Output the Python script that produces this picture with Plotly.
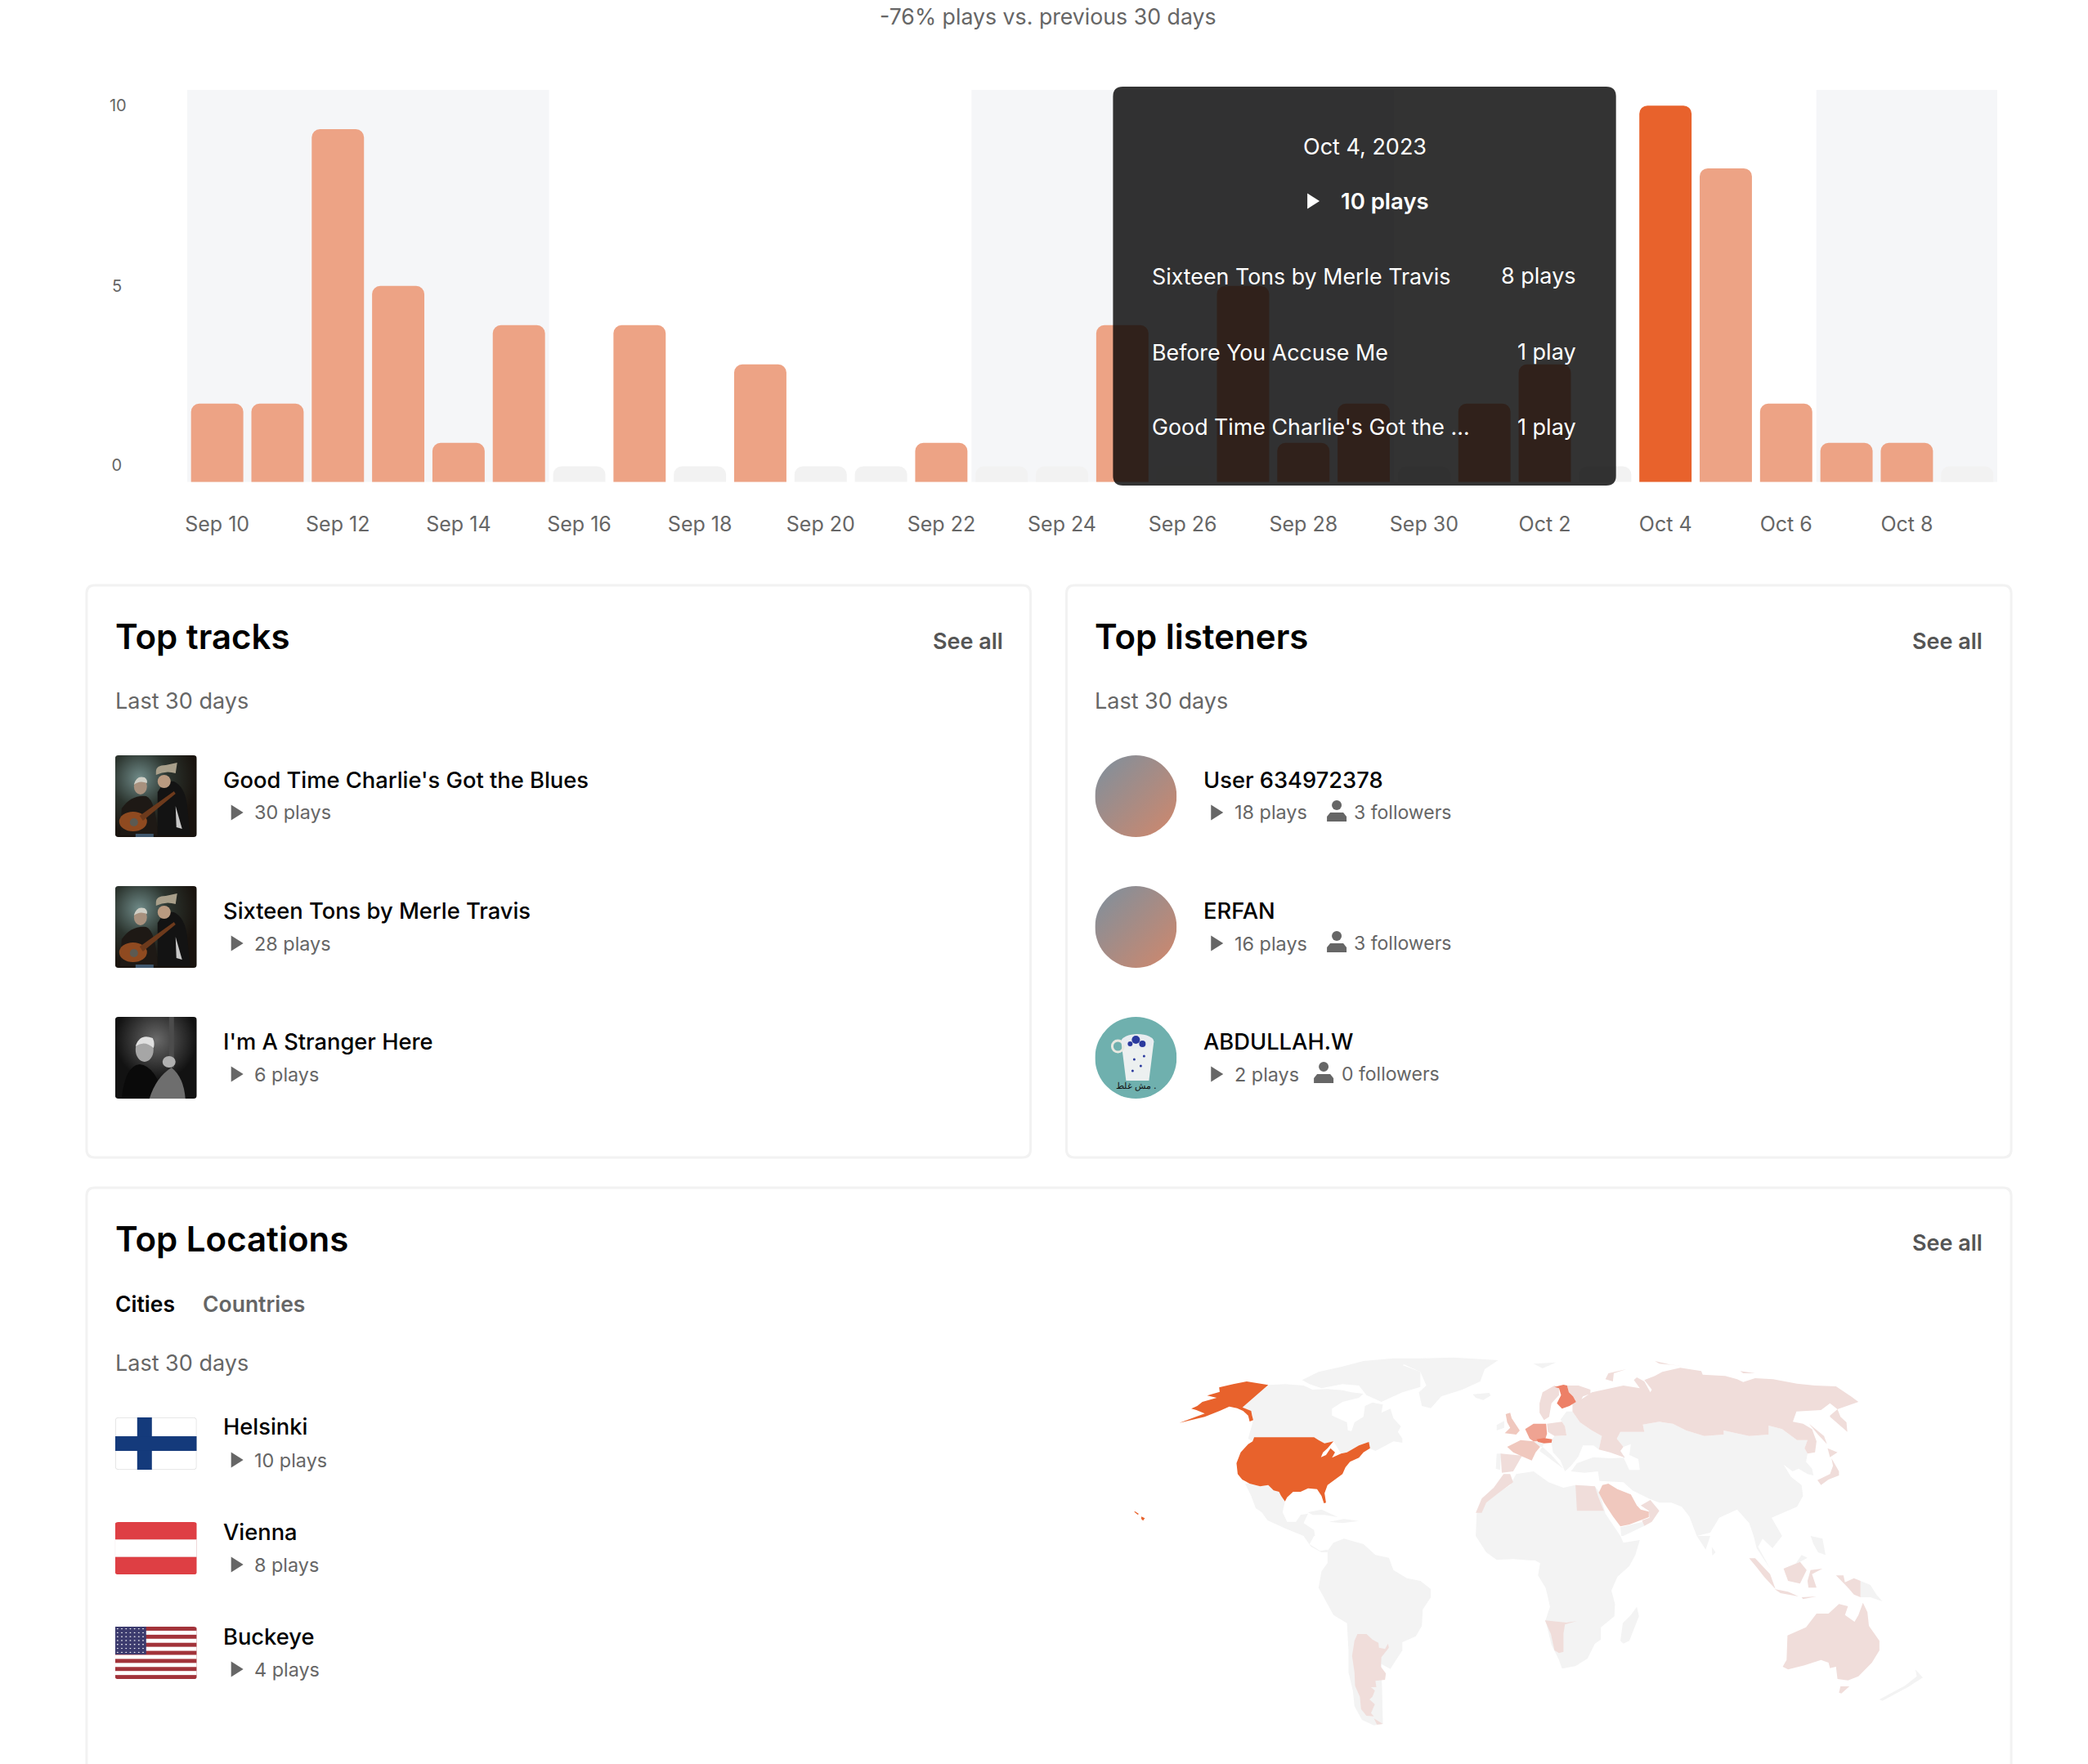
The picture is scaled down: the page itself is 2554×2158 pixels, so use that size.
import base64
import plotly.graph_objects as go

# ─── data ───────────────────────────────────────────
DAYS = ["Sep 10", "Sep 11", "Sep 12", "Sep 13", "Sep 14", "Sep 15", "Sep 16", "Sep 17", "Sep 18", "Sep 19",
        "Sep 20", "Sep 21", "Sep 22", "Sep 23", "Sep 24", "Sep 25", "Sep 26", "Sep 27", "Sep 28", "Sep 29",
        "Sep 30", "Oct 1", "Oct 2", "Oct 3", "Oct 4", "Oct 5", "Oct 6", "Oct 7", "Oct 8", "Oct 9"]
# bar heights as drawn: empty days keep a small stub, the selected day stops just under the top
PLAYS = [2, 2, 9, 5, 1, 4, 0.4, 4, 0.4, 3,
         0.4, 0.4, 1, 0.4, 0.4, 4, 0.4, 5, 1, 2,
         0.4, 2, 3, 0.4, 9.6, 8, 2, 1, 1, 0.4]
Y_TICKS = [0.43, 5, 9.6]
Y_LABELS = ["0\u00a0", "5\u00a0", "10"]
WEEK_BANDS = [(-0.5, 5.5), (12.5, 19.5), (26.5, 29.5)]

TOOLTIP_ROWS = [("Sixteen Tons by Merle Travis", "8 plays"),
                ("Before You Accuse Me", "1 play"),
                ("Good Time Charlie's Got the …", "1 play")]
TRACKS = [("Good Time Charlie's Got the Blues", "30 plays"),
          ("Sixteen Tons by Merle Travis", "28 plays"),
          ("I'm A Stranger Here", "6 plays")]
LISTENERS = [("User 634972378", "18 plays", "3 followers"),
             ("ERFAN", "16 plays", "3 followers"),
             ("ABDULLAH.W", "2 plays", "0 followers")]
CITIES = [("Helsinki", "10 plays"), ("Vienna", "8 plays"), ("Buckeye", "4 plays")]

# map outlines, in map-plane units. each list is relative to one quarter of the map
NW, NE, SW, SE = (0, 0), (1568, 0), (0, 837), (1568, 837)

USA = [(635,475),(835,475),(850,485),(870,497),(900,490),(880,515),(865,530),(858,548),(875,540),(890,515),(905,530),(895,550),(925,535),
       (945,530),(985,505),(1018,492),(1022,515),(1000,530),(985,550),(955,565),(940,585),(930,610),(905,630),(880,650),(870,680),(875,715),
       (868,717),(860,690),(845,665),(815,662),(790,675),(765,675),(745,695),(738,710),(725,690),(718,675),(700,670),(682,650),(655,655),
       (620,645),(595,630),(580,610),(576,570),(590,530),(615,500),(630,490)]
ALASKA = [(610,270),(682,283),(596,365),(625,378),(628,395),(632,412),(620,417),(615,395),(598,378),(578,368),(552,362),(520,378),(470,400),
          (385,422),(440,400),(470,388),(442,375),(425,370),(445,360),(462,345),(510,330),(478,322),(520,308),(518,292),(565,280)]
HAWAII = [(258,766),(270,772),(264,781),(258,775)]
HAWAII_WEST = [(236,746),(250,756),(246,759),(235,749)]
CANADA = [(682,283),(740,280),(800,285),(830,300),(880,298),(930,302),(960,310),(1000,315),(985,330),(930,345),(895,370),(895,395),(945,420),
          (948,450),(960,452),(970,420),(1000,400),(1005,360),(1030,347),(1065,355),(1060,385),(1090,370),(1100,405),(1125,435),(1115,455),
          (1130,480),(1130,495),(1100,490),(1075,505),(1040,525),(1020,515),(1018,492),(985,505),(945,530),(925,535),(900,490),(870,497),
          (850,485),(835,475),(635,475),(630,490),(615,480),(625,440),(632,412),(628,395),(625,378),(596,365)]
ARCTIC = [(795,265),(850,235),(930,215),(1000,195),(1100,185),(1210,185),(1130,210),(1190,235),(1190,290),(1130,310),(1060,345),(1010,320),
          (985,285),(930,280),(860,295),(820,280)]
GREENLAND = [(1130,205),(1200,185),(1300,182),(1450,192),(1405,225),(1390,270),(1330,300),(1260,325),(1225,368),(1195,360),(1185,310),
             (1210,285),(1190,235)]
ICELAND = [(1365,317),(1420,312),(1425,322),(1400,338),(1375,330)]
MEXICO = [(605,645),(620,645),(655,655),(682,650),(700,670),(718,675),(725,690),(738,710),(730,750),(745,785),(775,785),(790,760),(815,755),
          (800,790),(835,815),(838,837),(800,837),(740,810),(680,780),(660,750),(640,735),(625,690)]
CUBA = [(815,750),(860,740),(915,768),(870,760),(830,760)]
HISPANIOLA = [(885,785),(935,775),(985,782),(930,790)]
IRELAND = [(1445,430),(1470,415),(1470,440),(1445,450)]
PORTUGAL = [(1445,535),(1460,535),(1456,595),(1442,590)]
CENTRAL_AM = [(800,0),(835,0),(820,30),(855,55),(880,50),(880,60),(860,60),(825,40)]
S_AMERICA = [(880,55),(900,25),(935,10),(1000,30),(1040,70),(1085,80),(1100,125),(1145,155),(1190,165),(1225,195),(1225,225),(1198,270),(1195,330),
             (1175,368),(1130,390),(1130,420),(1100,470),(1090,488),(1060,470),(1065,690),(1035,695),(995,675),(970,625),(965,570),(950,500),
             (950,420),(945,320),(900,290),(885,260),(850,190),(860,130),(880,100)]
AFRICA = [(1378,755),(1420,700),(1490,650),(1510,610),(1568,600),(1618,640),(1668,660),(1708,650),(1773,655),(1790,680),(1808,755),(1858,837),
          (1868,862),(1923,852),(1908,907),(1888,947),(1848,987),(1828,1037),(1840,1087),(1838,1132),(1793,1172),(1793,1217),(1773,1232),
          (1748,1287),(1708,1315),(1663,1324),(1653,1292),(1628,1237),(1608,1147),(1623,1097),(1616,1062),(1608,1027),(1583,982),(1590,937),
          (1573,927),(1560,927),(1500,922),(1445,925),(1410,897),(1375,837)]
MADAGASCAR = [(345,260),(352,295),(320,385),(300,395),(290,385),(298,320),(325,290)]
YEMEN = [(290,805),(320,797),(365,785),(370,800),(300,837),(293,837)]
SVALBARD = [(0,205),(75,200),(30,222)]
E_EUROPE = [(110,380),(130,380),(155,420),(195,450),(228,470),(218,520),(200,505),(165,505),(150,545),(125,580),(105,600),(90,560),(65,530),
            (60,497),(62,482),(70,470),(110,468),(105,435),(95,418),(90,410)]
ALPS = [(0,490),(35,497),(30,510),(0,505)]
ITALY = [(30,510),(60,540),(100,590),(80,575),(50,550),(20,525)]
ASIA = [(278,480),(290,455),(370,455),(365,428),(420,418),(465,425),(510,450),(570,470),(635,465),(635,450),(720,470),(785,465),(785,432),(830,445),
        (880,485),(915,485),(905,515),(915,535),(910,565),(930,590),(935,615),(915,610),(885,590),(865,600),(835,575),(860,620),(895,650),(900,690),
        (880,730),(820,760),(795,770),(830,837),(735,837),(720,790),(680,740),(620,770),(590,825),(545,837),(520,765),(495,730),(460,715),(420,715),
        (385,700),(330,670),(300,640),(220,635),(215,600),(170,605),(125,600),(145,570),(200,548),(255,552),(305,550),(290,525),(320,595),(355,595),
        (350,555),(320,540),(325,500),(300,510)]
INDIA_TIP = [(545,0),(590,0),(575,50)]
SRI_LANKA = [(595,40),(608,60),(597,72)]
INDOCHINA = [(735,0),(830,0),(798,45),(765,10),(750,40),(790,120),(760,70),(745,45)]
SABAH = [(835,120),(870,110),(895,70),(915,80),(890,95)]
PHILIPPINES = [(925,0),(965,10),(975,70),(950,60),(935,30)]
PNG = [(1092,165),(1125,180),(1145,215),(1165,240),(1125,225),(1092,225)]
NEW_ZEALAND = [(1275,490),(1300,520),(1250,555),(1165,605),(1155,600),(1240,550),(1280,515)]

RUSSIA = [(130,340),(142,345),(132,325),(118,310),(112,285),(150,285),(190,300),(190,315),(165,325),(160,335),(195,310),(240,300),(300,285),(355,295),
          (335,265),(345,255),(370,270),(390,310),(395,300),(370,265),(405,250),(430,235),(490,220),(560,232),(565,245),(640,250),(680,262),(700,272),
          (740,258),(800,262),(880,278),(940,285),(1010,288),(1060,325),(1085,345),(1015,372),(990,350),(960,375),(878,380),(866,418),(900,425),
          (930,445),(945,490),(940,530),(915,535),(905,515),(915,485),(880,485),(830,445),(785,432),(785,465),(720,470),(635,450),(635,465),(570,470),
          (510,450),(465,425),(420,418),(365,428),(370,455),(290,455),(278,480),(300,510),(290,525),(305,550),(255,530),(218,520),(228,470),(195,450),
          (155,420),(130,380)]
KAMCHATKA = [(990,395),(1015,372),(1025,400),(1045,420),(1048,455),(1005,415),(990,400)]
NOVAYA = [(240,262),(250,240),(310,225),(268,240),(265,270)]
SAKHALIN = [(920,425),(970,470),(980,500),(950,465)]
HOKKAIDO = [(982,515),(1015,530),(990,548)]
HONSHU = [(995,552),(1020,600),(1020,615),(985,630),(960,650),(948,632),(990,610),(1000,580)]
ARCTIC_RU_1 = [(405,195),(455,208),(490,212),(420,205)]
ARCTIC_RU_2 = [(690,232),(740,240),(770,240),(700,240)]
SCANDINAVIA = [(70,285),(30,310),(20,350),(20,385),(35,412),(52,400),(60,350),(85,320),(85,295)]
ARGENTINA = [(980,360),(1010,360),(1030,380),(1050,392),(1052,410),(1072,415),(1082,395),(1085,410),(1060,445),(1058,480),(1075,505),(1072,528),
             (1040,532),(1043,555),(1025,555),(1038,568),(1030,590),(1020,600),(1038,618),(1025,650),(1035,662),(1010,660),(992,635),(988,590),
             (972,550),(970,500),(962,440),(970,385)]
TIERRA = [(1035,670),(1065,690),(1045,692)]
MOROCCO = [(1468,610),(1490,610),(1500,640),(1450,680),(1410,715),(1395,752),(1375,752),(1395,700),(1435,660)]
EGYPT = [(1708,650),(1773,655),(1783,690),(1803,745),(1713,745)]
NAMIBIA = [(38,310),(110,318),(145,312),(105,325),(100,358),(100,425),(85,430),(70,420),(58,360)]
OMAN = [(358,725),(390,705),(420,745),(395,785),(370,800),(362,780),(387,770),(385,745)]
SPAIN = [(1458,535),(1530,542),(1500,600),(1462,605)]
POLAND = [(45,425),(95,418),(105,435),(110,468),(70,470),(48,455)]
UK = [(1475,390),(1490,385),(1495,405),(1522,450),(1510,465),(1472,460),(1490,440),(1480,420)]
SUMATRA = [(720,82),(740,82),(790,140),(808,195),(770,150),(745,115)]
JAVA = [(805,195),(850,205),(885,222),(825,210)]
BORNEO = [(835,120),(890,95),(912,125),(890,175),(850,165)]
SULAWESI = [(915,165),(925,125),(965,120),(930,140),(945,190),(918,190)]
MALUKU = [(1010,145),(1035,145),(1040,170),(1090,165),(1050,190)]
PAPUA = [(1040,170),(1070,155),(1092,165),(1092,225),(1070,215),(1050,190)]
TIMOR = [(895,225),(945,222),(900,232)]
AUSTRALIA = [(1020,250),(1050,258),(1040,290),(1072,315),(1085,290),(1100,245),(1115,280),(1120,330),(1155,385),(1155,420),(1130,465),(1085,515),
             (1050,530),(1015,525),(1010,480),(990,485),(985,465),(960,455),(905,475),(850,490),(832,480),(845,455),(848,365),(910,335),(945,285),(985,285)]
TASMANIA = [(1025,552),(1055,552),(1028,578),(1020,575)]
FRANCE = [(1480,510),(1525,485),(1568,490),(1590,510),(1575,530),(1562,560),(1530,545),(1500,530)]
SAUDI = [(230,650),(250,645),(280,665),(325,685),(345,725),(358,740),(385,748),(385,768),(320,795),(290,802),(265,765),(235,715),(218,678)]
GERMANY = [(1540,445),(1568,425),(1610,425),(1613,462),(1605,490),(1568,490),(1555,480)]
AUSTRIA = [(10,482),(35,478),(62,482),(60,495),(35,497),(15,492)]
FINLAND = [(100,282),(112,285),(118,310),(132,325),(142,345),(120,360),(95,370),(78,350),(92,320),(85,295),(70,290)]

MAP_LAYERS = [
    ("#F3F3F3", [(CANADA, NW), (ARCTIC, NW), (GREENLAND, NW), (ICELAND, NW), (MEXICO, NW), (CUBA, NW), (HISPANIOLA, NW), (IRELAND, NW), (PORTUGAL, NW),
                 (CENTRAL_AM, SW), (S_AMERICA, SW), (AFRICA, NW), (MADAGASCAR, SE), (YEMEN, NE), (SVALBARD, NE), (E_EUROPE, NE), (ALPS, NE), (ITALY, NE),
                 (ASIA, NE), (INDIA_TIP, SE), (SRI_LANKA, SE), (INDOCHINA, SE), (SABAH, SE), (PHILIPPINES, SE), (PNG, SE), (NEW_ZEALAND, SE)]),
    ("#F0DDDA", [(RUSSIA, NE), (KAMCHATKA, NE), (NOVAYA, NE), (SAKHALIN, NE), (HOKKAIDO, NE), (HONSHU, NE), (ARCTIC_RU_1, NE), (ARCTIC_RU_2, NE),
                 (SCANDINAVIA, NE), (ARGENTINA, SW), (TIERRA, SW), (MOROCCO, NW), (EGYPT, NW), (NAMIBIA, SE), (OMAN, NE), (SPAIN, NW), (POLAND, NE),
                 (SUMATRA, SE), (JAVA, SE), (BORNEO, SE), (SULAWESI, SE), (MALUKU, SE), (PAPUA, SE), (TIMOR, SE), (AUSTRALIA, SE), (TASMANIA, SE)]),
    ("#F0C8BE", [(FRANCE, NW), (UK, NW), (SAUDI, NE)]),
    ("#EFA392", [(GERMANY, NW)]),
    ("#ED8067", [(FINLAND, NE), (AUSTRIA, NE)]),
    ("#E8622C", [(USA, NW), (ALASKA, NW), (HAWAII, NW), (HAWAII_WEST, NW)]),
]

# ─── colours, fonts ─────────────────────────────────
FONT = "Inter"
GREY = "#666666"
BAR = "#EDA385"
BAR_ON = "#E8622C"
BAR_EMPTY = "#F2F2F2"

W, H = 2554, 2158


def px(x):
    return x / W


def py(y):
    return (H - y) / H


def label(fig, x, y, text, size, color="#000000", weight=400, anchor="left"):
    fig.add_annotation(xref="paper", yref="paper", x=px(x), y=py(y), text=text, showarrow=False,
                       xanchor=anchor, yanchor="middle", borderpad=0,
                       font=dict(family=FONT, size=size, color=color, weight=weight))


def poly(fig, pts, color):
    path = "M " + " L ".join(f"{px(a)} {py(b)}" for a, b in pts) + " Z"
    fig.add_shape(type="path", xref="paper", yref="paper", path=path, fillcolor=color, line_width=0, layer="above")


def round_rect(x0, y0, x1, y1, r):
    pts = [f"M {px(x0 + r)} {py(y0)}", f"L {px(x1 - r)} {py(y0)}", f"Q {px(x1)} {py(y0)} {px(x1)} {py(y0 + r)}",
           f"L {px(x1)} {py(y1 - r)}", f"Q {px(x1)} {py(y1)} {px(x1 - r)} {py(y1)}", f"L {px(x0 + r)} {py(y1)}",
           f"Q {px(x0)} {py(y1)} {px(x0)} {py(y1 - r)}", f"L {px(x0)} {py(y0 + r)}", f"Q {px(x0)} {py(y0)} {px(x0 + r)} {py(y0)}", "Z"]
    return " ".join(pts)


def triangle(fig, x, y, color=GREY, w=15, h=19):
    poly(fig, [(x, y - h / 2), (x + w, y), (x, y + h / 2)], color)


def person(fig, x, y):
    # x = left edge, y = middle of the row
    fig.add_shape(type="circle", xref="paper", yref="paper", x0=px(x + 6), x1=px(x + 18), y0=py(y - 15), y1=py(y - 3),
                  fillcolor=GREY, line_width=0, layer="above")
    poly(fig, [(x, y + 11), (x, y + 5), (x + 4, y), (x + 20, y), (x + 24, y + 5), (x + 24, y + 11)], GREY)


def svg_image(fig, svg, x0, y0, x1, y1):
    src = "data:image/svg+xml;base64," + base64.b64encode(svg.encode()).decode()
    fig.add_layout_image(source=src, xref="paper", yref="paper", x=px(x0), y=py(y0), sizex=(x1 - x0) / W, sizey=(y1 - y0) / H,
                         sizing="stretch", layer="above", xanchor="left", yanchor="top")


SVG_HEAD = '<svg xmlns="http://www.w3.org/2000/svg" viewBox="0 0 100 100" preserveAspectRatio="none">'
ART_DUO = SVG_HEAD + """
<defs><radialGradient id="g" cx="30%" cy="28%" r="70%"><stop offset="0" stop-color="#6f8a88"/><stop offset="0.5" stop-color="#2c352f"/>
<stop offset="1" stop-color="#19130e"/></radialGradient></defs>
<rect width="100" height="100" rx="4" fill="url(#g)"/>
<path d="M52 45 Q60 30 72 32 Q85 38 88 60 L92 98 L52 98Z" fill="#131313"/>
<path d="M74 62 L82 90 L75 88Z" fill="#c8c8c8"/>
<ellipse cx="60" cy="32" rx="8" ry="8" fill="#b99a80"/>
<path d="M50 20 Q50 12 62 12 L76 9 L74 22 Q62 18 50 24Z" fill="#a89f8a"/>
<path d="M8 65 Q20 48 38 50 Q50 55 52 98 L6 98Z" fill="#1e1915"/>
<ellipse cx="31" cy="38" rx="8" ry="10" fill="#a8917e"/>
<path d="M23 36 Q26 24 36 27 Q40 30 39 34 Q30 30 23 36Z" fill="#cfcfc6"/>
<ellipse cx="22" cy="81" rx="17" ry="12" fill="#8f4a20"/>
<circle cx="23" cy="82" r="5" fill="#5c5a52"/>
<path d="M30 74 L72 44 L74 47 L34 80Z" fill="#6d3a1c"/>
<rect x="25" y="96" width="22" height="4" fill="#40586e"/>
</svg>"""
ART_SOLO = SVG_HEAD + """
<defs><radialGradient id="g" cx="50%" cy="28%" r="50%"><stop offset="0" stop-color="#6a6a6a"/><stop offset="1" stop-color="#121212"/></radialGradient></defs>
<rect width="100" height="100" rx="4" fill="url(#g)"/>
<path d="M8 100 Q12 60 30 58 Q50 60 60 100Z" fill="#0a0a0a"/>
<ellipse cx="36" cy="40" rx="11" ry="15" fill="#a6a6a6"/>
<path d="M25 36 Q30 20 46 26 Q49 32 47 38 Q36 28 25 36Z" fill="#e0e0e0"/>
<rect x="66" y="0" width="6" height="62" fill="#4c4c4c"/>
<path d="M69 62 Q84 74 86 100 L42 100 Q50 74 69 62Z" fill="#6e6e6e"/>
<ellipse cx="66" cy="55" rx="8" ry="7" fill="#b0b0b0"/>
</svg>"""
AVATAR = SVG_HEAD + """
<defs><linearGradient id="g" x1="0.1" y1="0.1" x2="0.9" y2="0.9"><stop offset="0" stop-color="#858f99"/><stop offset="1" stop-color="#c98870"/></linearGradient></defs>
<circle cx="50" cy="50" r="50" fill="url(#g)"/></svg>"""
AVATAR_CUP = SVG_HEAD + """
<circle cx="50" cy="50" r="50" fill="#6fb0ae"/>
<path d="M32 30 L72 30 L66 78 L38 78Z" fill="#ecf0f0"/>
<circle cx="28" cy="36" r="7" fill="none" stroke="#e8e8e0" stroke-width="3"/>
<ellipse cx="52" cy="30" rx="20" ry="9" fill="#e8ecf0"/>
<circle cx="50" cy="28" r="5" fill="#2b3a9e"/><circle cx="58" cy="33" r="4" fill="#2b3a9e"/><circle cx="43" cy="33" r="3" fill="#2b3a9e"/>
<circle cx="48" cy="52" r="1.5" fill="#2b3a9e"/><circle cx="56" cy="60" r="1.5" fill="#2b3a9e"/><circle cx="46" cy="66" r="1.5" fill="#2b3a9e"/><circle cx="60" cy="48" r="1.5" fill="#2b3a9e"/>
</svg>"""
FLAG_FI = SVG_HEAD + """<rect x="0.5" y="0.5" width="99" height="99" rx="4" fill="#fff" stroke="#ddd"/>
<rect x="27" width="18" height="100" fill="#143a7b"/><rect y="36" width="100" height="28" fill="#143a7b"/></svg>"""
FLAG_AT = SVG_HEAD + """<rect width="100" height="100" rx="4" fill="#de3f44"/><rect y="33.5" width="100" height="33" fill="#fff" stroke="#e4e4e4" stroke-width="0.6"/></svg>"""
STRIPES = "".join(f'<rect y="{7.7 * i * 2 + 7.7:.1f}" width="100" height="7.7" fill="#fff"/>' for i in range(6))
STARS = "".join(f'<circle cx="{3 + 5.2 * c:.1f}" cy="{4 + 7.5 * r:.1f}" r="1" fill="#fff"/>' for r in range(7) for c in range(7))
FLAG_US = SVG_HEAD + f"""<rect width="100" height="100" rx="4" fill="#a2333a"/>{STRIPES}
<rect width="38" height="53" fill="#3c3b6e"/>{STARS}</svg>"""

# ─── figure ─────────────────────────────────────────
fig = go.Figure()

for x0, x1 in WEEK_BANDS:
    fig.add_shape(type="rect", xref="x", yref="y", x0=x0, x1=x1, y0=0, y1=10, fillcolor="#F5F6F8", line_width=0, layer="below")

bar_colors = [BAR_ON if d == "Oct 4" else (BAR_EMPTY if v < 1 else BAR) for d, v in zip(DAYS, PLAYS)]
fig.add_trace(go.Bar(x=DAYS, y=PLAYS, width=0.866, marker=dict(color=bar_colors, cornerradius=10, line_width=0),
                     showlegend=False, hoverinfo="skip"))

# map
for color, regions in MAP_LAYERS:
    for region, (dx, dy) in regions:
        fig.add_trace(go.Scatter(x=[p[0] + dx for p in region], y=[p[1] + dy for p in region], xaxis="x2", yaxis="y2", mode="lines",
                                 fill="toself", fillcolor=color, line=dict(width=0, color=color), showlegend=False, hoverinfo="skip"))

fig.update_layout(
    width=W, height=H, margin=dict(l=0, r=0, t=0, b=0), paper_bgcolor="white", plot_bgcolor="white", bargap=0.134,
    font=dict(family=FONT, color=GREY),
    xaxis=dict(domain=[px(226), px(2443)], range=[-0.5, 29.5], type="category", anchor="y", tickmode="array",
               tickvals=DAYS[::2], ticktext=DAYS[::2], showgrid=False, zeroline=False, showline=False,
               ticks="outside", ticklen=29, tickcolor="rgba(0,0,0,0)", tickfont=dict(size=25, color=GREY, family=FONT)),
    yaxis=dict(domain=[py(589.7), py(110)], range=[0, 10], anchor="x", tickmode="array", tickvals=Y_TICKS, ticktext=Y_LABELS,
               showgrid=False, zeroline=False, showline=False, ticks="outside", ticklen=69, tickcolor="rgba(0,0,0,0)",
               tickfont=dict(size=20, color=GREY, family=FONT)),
    xaxis2=dict(domain=[px(1300), px(2450)], range=[0, 3136], anchor="y2", visible=False),
    yaxis2=dict(domain=[0, py(1600)], range=[1674, 0], anchor="x2", visible=False),
)

label(fig, 1281, 20, "-76% plays vs. previous 30 days", 26.7, GREY, anchor="center")

# tooltip
fig.add_shape(type="path", xref="paper", yref="paper", path=round_rect(1360, 106, 1976, 594, 12),
              fillcolor="rgba(0,0,0,0.8)", line_width=0, layer="above")
label(fig, 1668, 179, "Oct 4, 2023", 27, "#FFFFFF", anchor="center")
triangle(fig, 1598, 246, "#FFFFFF", 15, 19)
label(fig, 1638, 246, "10 plays", 27.5, "#FFFFFF", 600)
for (name, plays), y in zip(TOOLTIP_ROWS, [338, 431, 522]):
    label(fig, 1407, y, name, 26.8, "#FFFFFF")
    label(fig, 1928, y, plays, 27, "#FFFFFF", anchor="right")

# cards
for x0, y0, x1, y1 in [(103, 716, 1259, 1416), (1303, 716, 2460, 1416), (103, 1453, 2460, 2400)]:
    fig.add_shape(type="path", xref="paper", yref="paper", path=round_rect(x0, y0, x1, y1, 10),
                  line=dict(color="#F2F2F2", width=3), layer="below")

for left, right, y, title in [(137, 1226, 779, "Top tracks"), (1337, 2426, 779, "Top listeners")]:
    label(fig, left, y, title, 42, "#000000", 600)
    label(fig, right, y + 5, "See all", 27, "#555555", 600, anchor="right")
    label(fig, left, 858, "Last 30 days", 27, GREY)

ROW_Y = [954, 1114, 1274]
for (name, plays), y, art in zip(TRACKS, ROW_Y, [ART_DUO, ART_DUO, ART_SOLO]):
    svg_image(fig, art, 138, y - 30, 238, y + 70)
    label(fig, 269, y, name, 27.3, "#000000", 500)
    triangle(fig, 280, y + 40)
    label(fig, 307, y + 40, plays, 23.4, GREY)

FOLLOW_X = [(1622, 1654), (1622, 1654), (1606, 1639)]
for (name, plays, follow), y, art, (icon_x, text_x) in zip(LISTENERS, ROW_Y, [AVATAR, AVATAR, AVATAR_CUP], FOLLOW_X):
    svg_image(fig, art, 1338, y - 30, 1438, y + 70)
    label(fig, 1470, y, name, 27.3, "#000000", 500)
    triangle(fig, 1480, y + 40)
    label(fig, 1508, y + 40, plays, 23.4, GREY)
    person(fig, icon_x, y + 40)
    label(fig, text_x, y + 40, follow, 23, GREY)
label(fig, 1388, 1328, "مش غلط .", 11, "#111111", anchor="center")

label(fig, 137, 1515, "Top Locations", 42, "#000000", 600)
label(fig, 2426, 1520, "See all", 27, "#555555", 600, anchor="right")
label(fig, 137, 1595, "Cities", 26.5, "#000000", 600)
label(fig, 244, 1595, "Countries", 26.5, GREY, 600)
label(fig, 137, 1667, "Last 30 days", 27, GREY)

FLAG_Y = [1734, 1862, 1990]
for (city, plays), y, flag in zip(CITIES, FLAG_Y, [FLAG_FI, FLAG_AT, FLAG_US]):
    svg_image(fig, flag, 138, y, 238, y + 64)
    label(fig, 269, y + 12, city, 27.3, "#000000", 500)
    triangle(fig, 280, y + 52)
    label(fig, 307, y + 52, plays, 23.4, GREY)

# figure fills the whole window, drop the browser's default body margin
fig.write_html("out.html", config={"displayModeBar": False}, post_script="document.body.style.margin='0';")
